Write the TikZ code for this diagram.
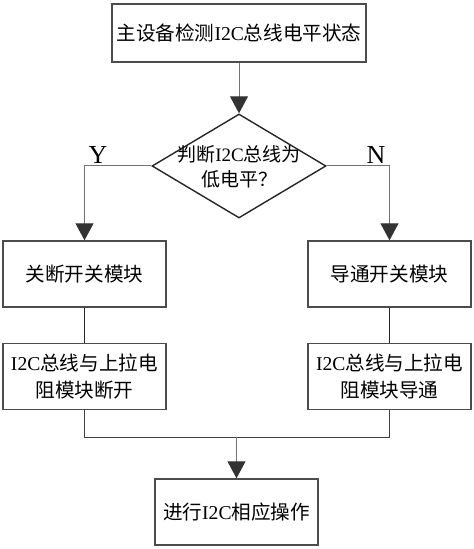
\documentclass[tikz,border=0pt]{standalone}
\usepackage{fontspec}
\setmainfont{Liberation Serif}
\newfontfamily\cjk{Noto Sans CJK SC}
\usetikzlibrary{arrows.meta,shapes.geometric,positioning,calc}

\newcommand{\zh}[1]{{\cjk #1}}

\begin{document}
\begin{tikzpicture}[x=0.5pt, y=-0.5pt,
    box/.style={draw=black!70, line width=0.7pt, minimum width=81.5pt, minimum height=33pt,
        inner sep=0pt, align=center, font=\fontsize{9.8}{13.5}\selectfont},
    decision/.style={diamond, draw=black!85, line width=0.7pt, minimum width=87pt,
        minimum height=52pt, inner sep=0pt},
    link/.style={draw=black!55, line width=0.5pt},
    arr/.style={link, -{Triangle[width=9pt,length=8.5pt,fill=black!80,color=black!80]}}]
    \useasboundingbox (0,0) rectangle (474,549);

    % Start
    \node[box, minimum width=127pt, minimum height=29pt] (detect) at (239,33)
        {\zh{主设备检测}I2C\zh{总线电平状态}};

    % Decision
    \node[decision] (judge) at (239,166) {};
    \node[font=\fontsize{9.5}{12.5}\selectfont, align=center, inner sep=0pt] (judgetxt) at (239,167)
        {\zh{判断}I2C\zh{总线为}\\\zh{低电平？}};
    \node[font=\fontsize{13}{13}\selectfont] (yes) at (98,155) {Y};
    \node[font=\fontsize{13}{13}\selectfont] (no) at (376,155) {N};

    % Branches
    \node[box] (off) at (84.5,274) {\zh{关断开关模块}};
    \node[box] (on) at (389.5,274) {\zh{导通开关模块}};
    \node[box] (offres) at (84.5,376.5) {I2C\zh{总线与上拉电}\\\zh{阻模块断开}};
    \node[box] (onres) at (389.5,376.5) {I2C\zh{总线与上拉电}\\\zh{阻模块导通}};

    % End
    \node[box] (op) at (236.5,512) {\zh{进行}I2C\zh{相应操作}};
    \coordinate (join) at (236.5,437);

    % Arrows
    \draw[arr] (detect.south) -- (judge.north);
    \draw[arr] (judge.west) -| (off.north);
    \draw[arr] (judge.east) -| (on.north);
    \draw[link, draw=black!85] (off.south) -- (offres.north);
    \draw[link, draw=black!85] (on.south) -- (onres.north);
    \draw[link, draw=black!75] (offres.south) |- (join);
    \draw[link, draw=black!75] (onres.south) |- (join);
    \draw[arr] (join) -- (op.north);
\end{tikzpicture}
\end{document}
